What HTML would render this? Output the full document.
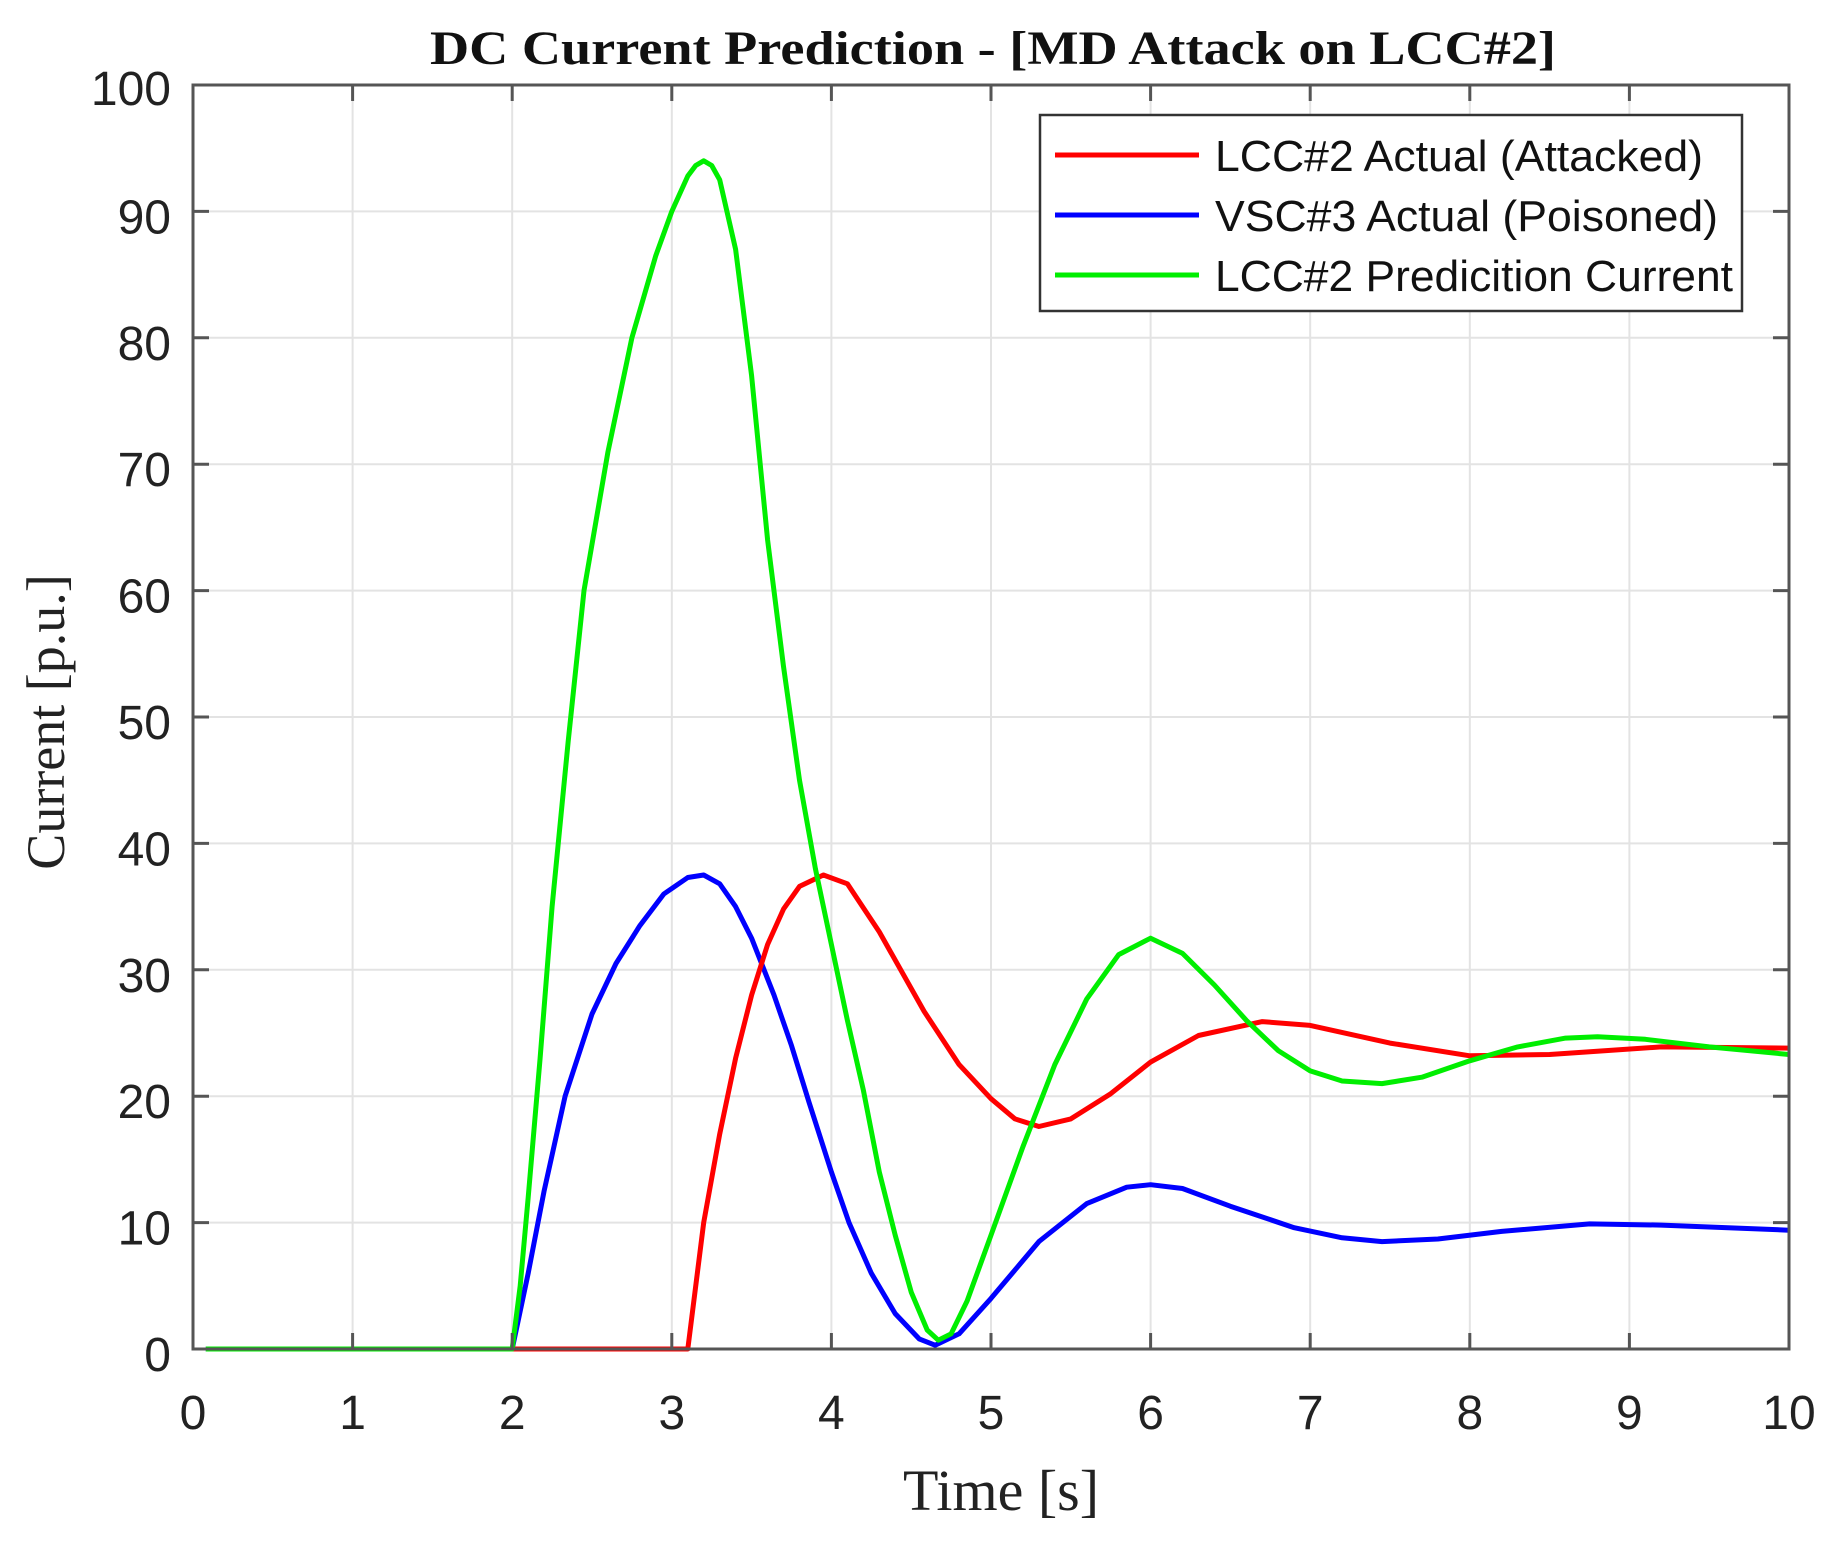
<!DOCTYPE html>
<html><head><meta charset="utf-8"><style>html,body{margin:0;padding:0;background:#fff;}svg{display:block}</style></head>
<body>
<svg width="1844" height="1550" viewBox="0 0 1844 1550" xmlns="http://www.w3.org/2000/svg">
<rect width="1844" height="1550" fill="#fff"/>
<g stroke="#e3e3e3" stroke-width="2">
<line x1="352.6" y1="85" x2="352.6" y2="1349"/><line x1="512.2" y1="85" x2="512.2" y2="1349"/><line x1="671.8" y1="85" x2="671.8" y2="1349"/><line x1="831.4" y1="85" x2="831.4" y2="1349"/><line x1="991" y1="85" x2="991" y2="1349"/><line x1="1150.6" y1="85" x2="1150.6" y2="1349"/><line x1="1310.2" y1="85" x2="1310.2" y2="1349"/><line x1="1469.8" y1="85" x2="1469.8" y2="1349"/><line x1="1629.4" y1="85" x2="1629.4" y2="1349"/>
<line x1="193" y1="1222.6" x2="1789" y2="1222.6"/><line x1="193" y1="1096.2" x2="1789" y2="1096.2"/><line x1="193" y1="969.8" x2="1789" y2="969.8"/><line x1="193" y1="843.4" x2="1789" y2="843.4"/><line x1="193" y1="717" x2="1789" y2="717"/><line x1="193" y1="590.6" x2="1789" y2="590.6"/><line x1="193" y1="464.2" x2="1789" y2="464.2"/><line x1="193" y1="337.8" x2="1789" y2="337.8"/><line x1="193" y1="211.4" x2="1789" y2="211.4"/>
</g>
<g fill="none" stroke-width="5" stroke-linejoin="round">
<polyline stroke="#0000ff" points="205.8,1349 512.2,1349 528.2,1273.2 544.1,1191.0 565.1,1096.2 592.0,1014.0 616.0,963.5 639.9,925.6 663.8,894.0 687.8,877.5 703.7,875.0 719.7,883.8 735.6,906.6 751.6,938.2 774.0,995.1 791.5,1045.6 809.1,1102.5 831.4,1172.0 849.0,1222.6 871.3,1273.2 895.2,1313.6 919.2,1338.9 935.1,1345.2 959.1,1333.8 991,1298.4 1038.9,1241.6 1086.8,1203.6 1126.7,1187.2 1150.6,1184.7 1182.5,1188.5 1230.3,1206.2 1294.2,1227.7 1342.1,1237.8 1382.0,1241.6 1437.9,1239.0 1501.7,1231.4 1589.6,1223.9 1661.3,1225.1 1789,1230.2"/>
<polyline stroke="#ff0000" points="512.2,1349 687.8,1349 703.7,1222.6 719.7,1134.1 735.6,1058.3 751.6,995.1 767.6,944.5 783.5,909.1 799.5,886.4 823.4,875.0 847.4,883.8 879.3,931.9 924.2,1011.5 959.1,1064.6 991,1098.7 1015.0,1118.9 1038.9,1126.5 1070.8,1118.9 1110.7,1093.7 1150.6,1062.1 1198.5,1035.5 1262.3,1021.6 1310.2,1025.4 1390.0,1043.1 1469.8,1055.8 1549.6,1054.5 1661.3,1046.9 1789,1048.1"/>
<polyline stroke="#00ee00" points="205.8,1349 512.2,1349 520.2,1285.8 528.2,1197.3 540.1,1058.3 552.1,906.6 568.1,742.3 584.0,590.6 608,451.6 631.9,337.8 655.8,255.6 671.8,211.4 687.8,176.0 695.7,165.5 703.7,160.8 711.7,165.5 719.7,179.8 735.6,249.3 751.6,375.7 767.6,540.0 783.5,666.4 799.5,780.2 815.4,868.7 831.4,944.5 847.4,1020.4 863.3,1089.9 879.3,1172.0 895.2,1235.2 911.2,1292.1 927.2,1330.0 938.3,1340.2 951.1,1333.8 967.1,1301.0 991,1235.2 1022.9,1146.8 1054.8,1064.6 1086.8,998.9 1118.7,954.6 1150.6,938.2 1182.5,953.4 1214.4,985.0 1246.4,1020.4 1278.3,1050.7 1310.2,1070.9 1342.1,1081.0 1382.0,1083.6 1421.9,1077.2 1469.8,1060.8 1517.7,1046.9 1565.6,1038.1 1597.5,1036.8 1645.4,1039.3 1709.2,1046.9 1789,1054.5"/>
</g>
<g stroke="#555" stroke-width="3" fill="none">
<rect x="193" y="85" width="1596" height="1264"/>
<path d="M352.6,1349v-16M512.2,1349v-16M671.8,1349v-16M831.4,1349v-16M991,1349v-16M1150.6,1349v-16M1310.2,1349v-16M1469.8,1349v-16M1629.4,1349v-16
M352.6,85v16M512.2,85v16M671.8,85v16M831.4,85v16M991,85v16M1150.6,85v16M1310.2,85v16M1469.8,85v16M1629.4,85v16
M193,1222.6h16M193,1096.2h16M193,969.8h16M193,843.4h16M193,717h16M193,590.6h16M193,464.2h16M193,337.8h16M193,211.4h16
M1789,1222.6h-16M1789,1096.2h-16M1789,969.8h-16M1789,843.4h-16M1789,717h-16M1789,590.6h-16M1789,464.2h-16M1789,337.8h-16M1789,211.4h-16"/>
</g>
<g font-family="Liberation Sans, sans-serif" font-size="48" fill="#222" text-anchor="middle">
<text x="193" y="1429">0</text><text x="352.6" y="1429">1</text><text x="512.2" y="1429">2</text><text x="671.8" y="1429">3</text><text x="831.4" y="1429">4</text><text x="991" y="1429">5</text><text x="1150.6" y="1429">6</text><text x="1310.2" y="1429">7</text><text x="1469.8" y="1429">8</text><text x="1629.4" y="1429">9</text><text x="1789" y="1429">10</text>
</g>
<g font-family="Liberation Sans, sans-serif" font-size="48" fill="#222" text-anchor="end">
<text x="171" y="1371">0</text><text x="171" y="1244.6">10</text><text x="171" y="1118.2">20</text><text x="171" y="991.8">30</text><text x="171" y="865.4">40</text><text x="171" y="739">50</text><text x="171" y="612.6">60</text><text x="171" y="486.2">70</text><text x="171" y="359.8">80</text><text x="171" y="233.4">90</text><text x="171" y="105">100</text>
</g>
<text x="993" y="64" text-anchor="middle" font-family="Liberation Serif, serif" font-weight="bold" font-size="48" textLength="1126" lengthAdjust="spacingAndGlyphs" fill="#111">DC Current Prediction - [MD Attack on LCC#2]</text>
<text x="1001" y="1510" text-anchor="middle" font-family="Liberation Serif, serif" font-size="58" fill="#222">Time [s]</text>
<text transform="translate(64,722) rotate(-90)" text-anchor="middle" font-family="Liberation Serif, serif" font-size="54" fill="#222">Current [p.u.]</text>
<rect x="1040" y="115" width="702" height="196" fill="#fff" stroke="#333" stroke-width="2.5"/>
<line x1="1055" y1="155" x2="1199" y2="155" stroke="#ff0000" stroke-width="5"/>
<line x1="1055" y1="215" x2="1199" y2="215" stroke="#0000ff" stroke-width="5"/>
<line x1="1055" y1="275" x2="1199" y2="275" stroke="#00ee00" stroke-width="5"/>
<g font-family="Liberation Sans, sans-serif" font-size="44" fill="#111">
<text x="1215" y="171" textLength="488" lengthAdjust="spacingAndGlyphs">LCC#2 Actual (Attacked)</text>
<text x="1215" y="231" textLength="503" lengthAdjust="spacingAndGlyphs">VSC#3 Actual (Poisoned)</text>
<text x="1215" y="291" textLength="518" lengthAdjust="spacingAndGlyphs">LCC#2 Predicition Current</text>
</g>
</svg>
</body></html>
